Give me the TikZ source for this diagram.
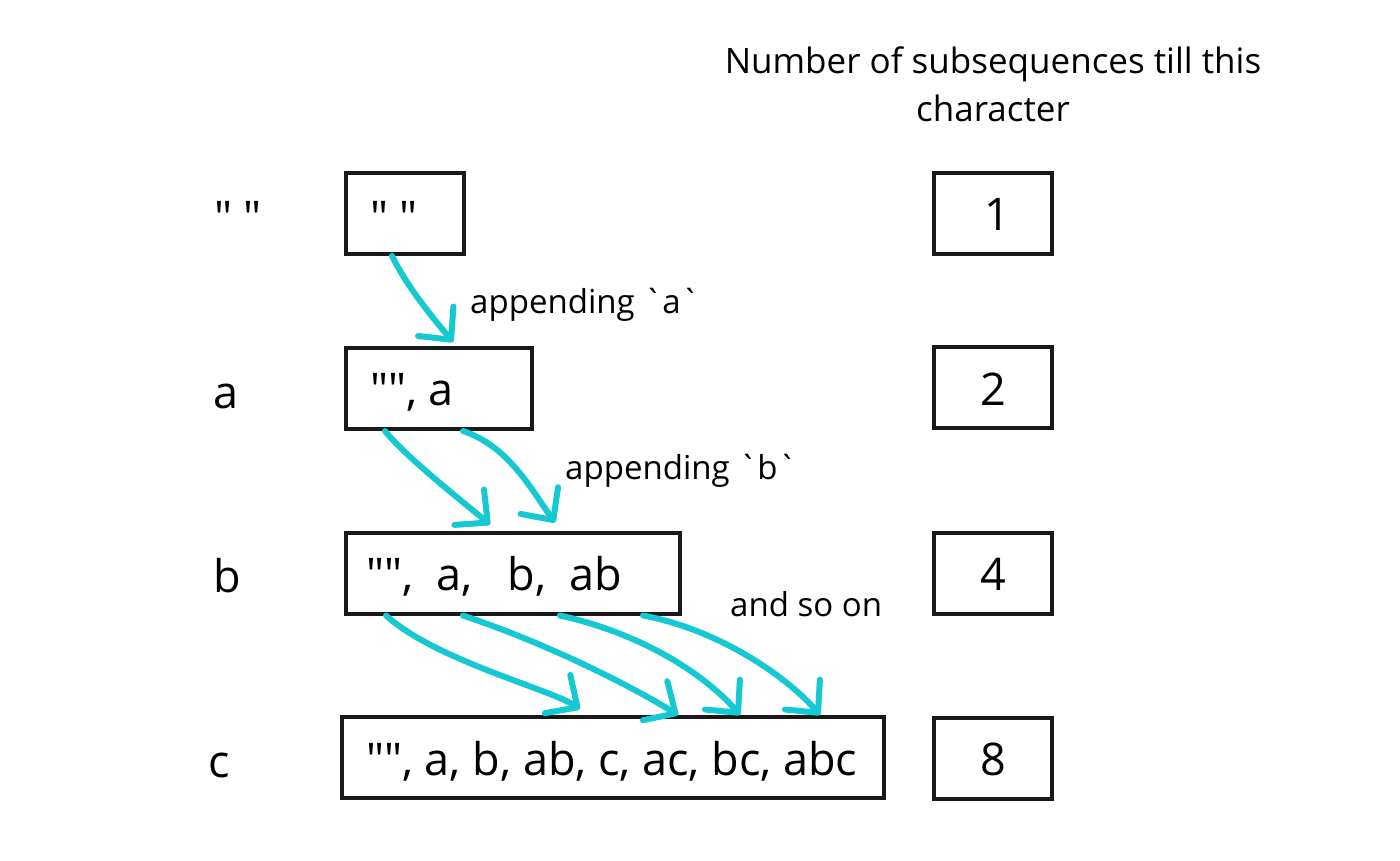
\documentclass[tikz,border=0pt]{standalone}
\usepackage{fontspec}
\setmainfont{Open Sans}[Ligatures=TeXOff]
\usetikzlibrary{arrows.meta}
\definecolor{arrowcyan}{RGB}{22,200,210}
\begin{document}
\begin{tikzpicture}[x=1pt,y=-1pt,
  box/.style={draw=black!90, line width=4pt, minimum width=#1, minimum height=81pt, inner sep=0pt},
  boxtext/.style={font=\fontsize{45}{54}\selectfont, inner sep=0pt, anchor=base west},
  sidetext/.style={font=\fontsize{45}{54}\selectfont, inner sep=0pt, anchor=base west},
  numtext/.style={font=\fontsize{45}{54}\selectfont, inner sep=0pt, anchor=base},
  note/.style={font=\fontsize{33}{40}\selectfont, inner sep=0pt, anchor=base west},
  flow/.style={draw=arrowcyan, line width=6pt, line cap=round, line join=round,
    -{Straight Barb[length=24pt,width=46pt,round]}}]
\useasboundingbox (0,0) rectangle (1400,860);
\fill[white] (0,0) rectangle (1400,860);

% header
\node[font=\fontsize{35}{48}\selectfont, align=center, inner sep=0pt] (head) at (993,84)
  {Number of subsequences till this\\character};

% left labels
\node[sidetext] (l0) at (214,233) {" "};
\node[sidetext] (l1) at (213,408) {a};
\node[sidetext] (l2) at (213,592) {b};
\node[sidetext] (l3) at (208,777) {c};

% boxes
\node[box=118pt] (b0) at (405,213.5) {};
\node[box=186pt] (b1) at (439,388.5) {};
\node[box=334pt] (b2) at (513,573) {};
\node[box=542pt] (b3) at (613,757.5) {};

\node[boxtext] (t0) at (370,233) {"\ "};
\node[boxtext] (t1) at (370,405) {"", a};
\node[boxtext] (t2) at (366,590) {"",\ \ a,\ \ \ b,\ \ ab};
\node[boxtext] (t3) at (366,775) {"", a, b, ab, c, ac, bc, abc};

% count boxes
\node[box=118pt] (n0) at (993,213.5) {};
\node[box=118pt] (n1) at (993,387.5) {};
\node[box=118pt] (n2) at (993,573.5) {};
\node[box=118pt] (n3) at (993,758.5) {};
\node[numtext] (d0) at (997,230) {1};
\node[numtext] (d1) at (993,405) {2};
\node[numtext] (d2) at (993,590) {4};
\node[numtext] (d3) at (993,775) {8};

% notes
\node[note] (na) at (470,313) {appending `a`};
\node[note] (nb) at (565,479) {appending `b`};
\node[note] (nc) at (730,616) {and so on};

% arrows
\draw[flow] ([xshift=48pt]b0.south west) .. controls +(15,30) and +(-25,-30) .. ([xshift=109pt,yshift=4pt]b1.north west);
\draw[flow] ([xshift=41pt]b1.south west) .. controls +(20,25) and +(-30,-25) .. ([xshift=146pt,yshift=6pt]b2.north west);
\draw[flow] ([xshift=119pt]b1.south west) .. controls +(45,15) and +(-25,-35) .. ([xshift=211pt,yshift=8pt]b2.north west);
\draw[flow] ([xshift=42pt]b2.south west) .. controls +(50,45) and +(-30,-20) .. ([xshift=240pt,yshift=6pt]b3.north west);
\draw[flow] ([xshift=119pt]b2.south west) .. controls +(90,30) and +(-40,-25) .. ([xshift=338pt]b3.north west);
\draw[flow] ([xshift=216pt]b2.south west) .. controls +(90,20) and +(-30,-35) .. ([xshift=400pt]b3.north west);
\draw[flow] ([xshift=299pt]b2.south west) .. controls +(80,15) and +(-30,-35) .. ([xshift=480pt]b3.north west);
\end{tikzpicture}
\end{document}
